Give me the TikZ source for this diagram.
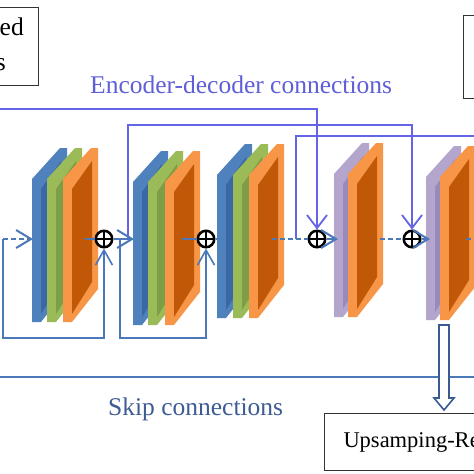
\documentclass[tikz,border=0pt]{standalone}
\usepackage{fontspec}
\setmainfont{Liberation Serif}
\usetikzlibrary{arrows.meta}
\definecolor{skipc}{RGB}{74,120,185}
\definecolor{encc}{RGB}{100,100,230}
\definecolor{enctext}{RGB}{95,95,215}
\definecolor{skiptext}{RGB}{62,92,148}
\definecolor{blueL}{RGB}{79,129,189}
\definecolor{blueD}{RGB}{58,104,166}
\definecolor{greenL}{RGB}{155,187,89}
\definecolor{greenD}{RGB}{124,158,70}
\definecolor{orangeL}{RGB}{247,150,70}
\definecolor{orangeD}{RGB}{192,88,8}
\definecolor{purpleL}{RGB}{180,165,205}
\definecolor{purpleD}{RGB}{152,138,188}
\definecolor{hollowc}{RGB}{58,90,146}
\newcommand{\myslab}[4]{%
  \begin{scope}[shift={(#1,#2)}]
    \fill[#3] (0,0) -- (0,-143) -- (28,-174) -- (35,-174) -- (35,-33) -- (9,0) -- cycle;
    \fill[#4] (9,-8) -- (9,-133) -- (29,-161) -- (29,-40) -- cycle;
  \end{scope}}
\tikzset{
  skipline/.style={draw=skipc, line width=1.6pt},
  encline/.style={draw=encc, line width=1.8pt},
  mainline/.style={draw=skipc, line width=2pt},
  dashline/.style={mainline, dash pattern=on 5pt off 3pt},
  inarr/.style={-{Straight Barb[length=15pt,width=18pt]}},
  uparr/.style={-{Straight Barb[length=15pt,width=17pt]}},
  downarr/.style={-{Straight Barb[length=13pt,width=20pt]}},
  oplus/.style={circle, draw=black, line width=2.5pt, fill=white, minimum size=16.5pt, inner sep=0pt,
    path picture={\draw[black, line width=2.2pt] (path picture bounding box.north) -- (path picture bounding box.south)
      (path picture bounding box.west) -- (path picture bounding box.east);}},
  bigtext/.style={font=\fontsize{25.5}{30}\selectfont, inner sep=0pt},
  boxline/.style={draw=black!80, line width=1pt}
}
\begin{document}
\begin{tikzpicture}[x=1pt,y=-1pt]
\useasboundingbox (0,0) rectangle (474,474);
\clip (0,0) rectangle (474,474);
\fill[white] (0,0) rectangle (474,474);

% boxes at top
\draw[boxline] (-5,7) rectangle (38,85);
\node[bigtext, anchor=base east] (t1) at (24,35) {ed};
\node[bigtext, anchor=base east] (t2) at (6,70) {s};
\draw[boxline] (463,15) rectangle (490,98);

% labels
\node[bigtext, anchor=base west, text=enctext] (enclab) at (90,93) {Encoder-decoder connections};
\node[bigtext, anchor=base west, text=skiptext] (skiplab) at (108,415) {Skip connections};

% blocks
\myslab{32}{322}{blueL}{blueD}
\myslab{47}{322}{greenL}{greenD}
\myslab{63}{322}{orangeL}{orangeD}
\myslab{133}{325}{blueL}{blueD}
\myslab{148}{325}{greenL}{greenD}
\myslab{165}{325}{orangeL}{orangeD}
\myslab{217}{318}{blueL}{blueD}
\myslab{233}{318}{greenL}{greenD}
\myslab{249}{318}{orangeL}{orangeD}
\myslab{334}{317}{purpleL}{purpleD}
\myslab{348}{317}{orangeL}{orangeD}
\myslab{426}{320}{purpleL}{purpleD}
\myslab{440}{320}{orangeL}{orangeD}

% sum nodes
\node[oplus] (p1) at (104,239) {};
\node[oplus] (p2) at (206,239) {};
\node[oplus] (p3) at (317,239) {};
\node[oplus] (p4) at (412,239) {};

% coordinates
\coordinate (left) at (-5,239);
\coordinate (b1in) at (33,239);
\coordinate (b1out) at (85,239);
\coordinate (b2in) at (134,239);
\coordinate (b2out) at (182,239);
\coordinate (b3in) at (217,239);
\coordinate (b3out) at (272,239);
\coordinate (b4in) at (338,239);
\coordinate (b4out) at (380,239);
\coordinate (b5in) at (430,239);
\coordinate (b5out) at (466,239);
\coordinate (right) at (480,239);
\coordinate (s1) at (3,239);
\coordinate (s2) at (120,239);
\coordinate (e2) at (128,239);
\coordinate (e3) at (296,239);
\coordinate (e1) at (-5,109);
\coordinate (e3end) at (480,136);

% skip loops
\draw[skipline, uparr] (s1) -- (3,338) -| (p1.south);
\draw[skipline, uparr] (s2) -- (120,338) -| (p2.south);

% encoder-decoder connections
\draw[encline, downarr] (e1) -| (p3.north);
\draw[encline, downarr] (e2) -- (128,125) -| (p4.north);
\draw[encline] (e3) -- (296,136) -- (e3end);

% main axis
\draw[dashline, inarr] (left) -- (b1in);
\draw[mainline] (b1out) -- (p1.west);
\draw[mainline, inarr] (p1.east) -- (b2in);
\draw[mainline] (b2out) -- (p2.west);
\draw[mainline] (p2.east) -- (b3in);
\draw[dashline] (b3out) -- (p3.west);
\draw[mainline, inarr] (p3.east) -- (b4in);
\draw[dashline] (b4out) -- (p4.west);
\draw[mainline, inarr] (p4.east) -- (b5in);
\draw[dashline] (b5out) -- (right);

% bottom skip line
\coordinate (bl) at (-5,377);
\coordinate (br) at (480,377);
\draw[skipline, line width=1.8pt] (bl) -- (br);

% upsampling box
\node[boxline, draw, anchor=north west, minimum width=180pt, minimum height=57pt,
      inner xsep=19pt, text width=142pt, align=left, font=\fontsize{22.5}{27}\selectfont] (up) at (324,413) {Upsamping-Re};

% hollow arrow from block 5 to the box
\coordinate (ha) at (444,325);
\draw[draw=hollowc, fill=white, line width=1.6pt, line join=miter]
  (439,325) -- (449,325) -- (449,398) -- (454,398) -- (444,410) -- (434,398) -- (439,398) -- cycle;
\end{tikzpicture}
\end{document}
